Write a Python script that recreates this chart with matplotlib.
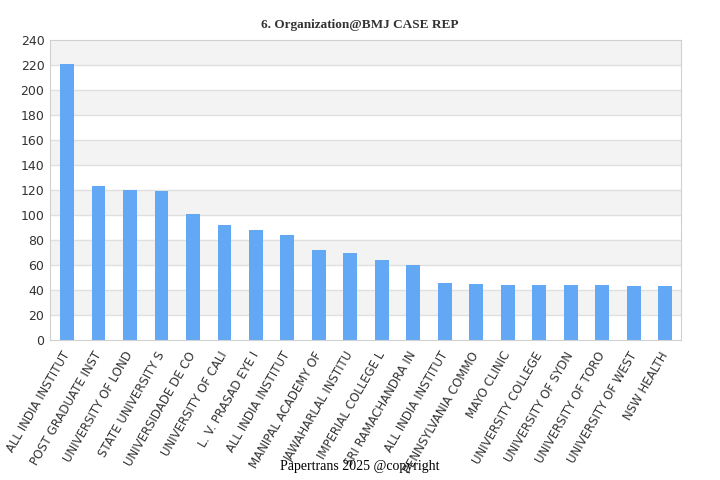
import matplotlib.pyplot as plt
import numpy as np

organizations = [
    "ALL INDIA INSTITUT", "POST GRADUATE INST", "UNIVERSITY OF LOND",
    "STATE UNIVERSITY S", "UNIVERSIDADE DE CO", "UNIVERSITY OF CALI",
    "L. V. PRASAD EYE I", "ALL INDIA INSTITUT", "MANIPAL ACADEMY OF",
    "JAWAHARLAL INSTITU", "IMPERIAL COLLEGE L", "SRI RAMACHANDRA IN",
    "ALL INDIA INSTITUT", "PENNSYLVANIA COMMO", "MAYO CLINIC",
    "UNIVERSITY COLLEGE", "UNIVERSITY OF SYDN", "UNIVERSITY OF TORO",
    "UNIVERSITY OF WEST", "NSW HEALTH",
]
counts = [221, 123, 120, 119, 101, 92, 88, 84, 72, 70,
          64, 60, 46, 45, 44, 44, 44, 44, 43, 43]
y_ticks = list(range(0, 241, 20))

fig = plt.figure(figsize=(7.2, 4.8), dpi=100)
ax = fig.add_axes([50 / 720, 140 / 480, 631 / 720, 300 / 480])

# alternating horizontal bands
for i, lo in enumerate(y_ticks[:-1]):
    if i % 2 == 1:
        ax.axhspan(lo, lo + 20, color="#f3f3f3", zorder=0, lw=0)
for y in y_ticks[1:-1]:
    ax.axhline(y, color="#e0e0e0", lw=1, zorder=1)

x = np.arange(len(counts))
ax.bar(x, counts, width=0.44, color="#62a8f4", zorder=2)

ax.set_xlim(-0.54, len(counts) - 0.5)
ax.set_ylim(0, 240)
ax.set_yticks(y_ticks)
ax.set_xticks(x)
ax.set_xticklabels(organizations, rotation=60, ha="right", va="center",
                   rotation_mode="anchor", fontsize=8.5, color="#333333")
ax.tick_params(axis="x", length=0, pad=9)
ax.tick_params(axis="y", length=0, pad=4, labelsize=9, labelcolor="#333333")
for spine in ax.spines.values():
    spine.set_color("#d0d0d0")

fig.text(0.5, 0.947, "6. Organization@BMJ CASE REP", ha="center", va="center",
         family="Liberation Serif", fontweight="bold", fontsize=9.5, color="#333333")
fig.text(0.5, 0.028, "Papertrans 2025 @copyright", ha="center", va="center",
         family="Liberation Serif", fontsize=10, color="black")

fig.savefig("out.png", dpi=100)
